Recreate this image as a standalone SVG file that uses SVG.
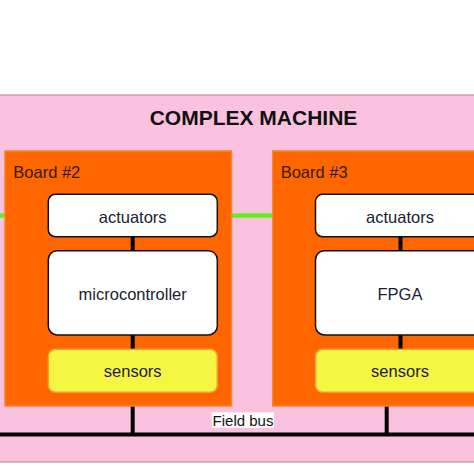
<svg xmlns="http://www.w3.org/2000/svg" width="474" height="474" viewBox="0 0 474 474">
<style>
.board{fill:#ff6600;stroke:#f3862e;stroke-width:1.5}
.box{fill:#ffffff;stroke:#111111;stroke-width:1.5}
.sens{fill:#f4f642;stroke:#f59a3a;stroke-width:1.5}
.lbl{font-family:"Liberation Sans",Arial,sans-serif;font-size:16.5px;fill:#1c1c33;text-anchor:middle}
.blbl{font-family:"Liberation Sans",Arial,sans-serif;font-size:16.5px;fill:#331a00}
.wire{stroke:#000000;stroke-width:4;fill:none}
.green{stroke:#66ee22;stroke-width:4.5;fill:none}
</style>
<rect x="0" y="0" width="474" height="474" fill="#ffffff"/>
<g id="machine">
<rect x="-2" y="95" width="480" height="367" fill="#fbc2e0" stroke="#c28a9e" stroke-width="1.2"/>
<text x="253.5" y="125" font-family="Liberation Sans,Arial,sans-serif" font-size="21" font-weight="bold" fill="#111111" text-anchor="middle">COMPLEX MACHINE</text>
</g>
<g id="connectors">
<line class="green" x1="0" y1="215.5" x2="6" y2="215.5"/>
<line class="green" x1="231" y1="215.5" x2="273" y2="215.5"/>
<line class="wire" x1="0" y1="434.5" x2="474" y2="434.5"/>
<line class="wire" x1="132.7" y1="406" x2="132.7" y2="434.5"/>
<line class="wire" x1="386.7" y1="406" x2="386.7" y2="434.5"/>
</g>
<g id="board2">
<rect class="board" x="5" y="151" width="226.5" height="255"/>
<text class="blbl" x="13.3" y="178">Board #2</text>
<line class="wire" x1="132.7" y1="236" x2="132.7" y2="251"/>
<line class="wire" x1="132.7" y1="335" x2="132.7" y2="350"/>
</g>
<g id="actuators2">
<rect class="box" x="48.3" y="194.3" width="169" height="42.4" rx="7"/>
<text class="lbl" x="132.7" y="222.5">actuators</text>
</g>
<g id="microcontroller">
<rect class="box" x="48.3" y="250.7" width="169" height="84.3" rx="9"/>
<text class="lbl" x="132.7" y="300">microcontroller</text>
</g>
<g id="sensors2">
<rect class="sens" x="48.3" y="349.3" width="169" height="43" rx="7"/>
<text class="lbl" x="132.7" y="377.3">sensors</text>
</g>
<g id="board3">
<rect class="board" x="272.7" y="151" width="226.5" height="255"/>
<text class="blbl" x="280.7" y="178">Board #3</text>
<line class="wire" x1="400.5" y1="236" x2="400.5" y2="251"/>
<line class="wire" x1="400.5" y1="335" x2="400.5" y2="350"/>
</g>
<g id="actuators3">
<rect class="box" x="315.5" y="194.3" width="169" height="42.4" rx="7"/>
<text class="lbl" x="400" y="222.5">actuators</text>
</g>
<g id="fpga">
<rect class="box" x="315.5" y="250.7" width="169" height="84.3" rx="9"/>
<text class="lbl" x="400" y="300">FPGA</text>
</g>
<g id="sensors3">
<rect class="sens" x="315.5" y="349.3" width="169" height="43" rx="7"/>
<text class="lbl" x="400" y="377.3">sensors</text>
</g>
<g id="fieldbus">
<rect x="211.7" y="412.3" width="62.3" height="15.4" fill="#ffffff"/>
<text x="243" y="426" font-family="Liberation Sans,Arial,sans-serif" font-size="15" fill="#111111" text-anchor="middle">Field bus</text>
</g>
</svg>
